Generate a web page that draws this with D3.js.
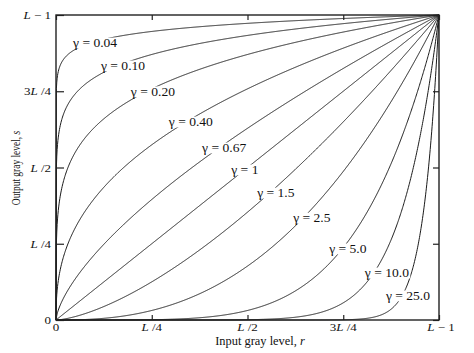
<!DOCTYPE html>
<html>
<head>
<meta charset="utf-8">
<script src="https://cdn.jsdelivr.net/npm/d3@7"></script>
<style>
  body { margin: 0; background: #fff; }
  svg text { font-family: "Liberation Serif", "Times New Roman", serif; fill: #111; }
  .curve { fill: none; stroke: #1a1a1a; stroke-width: 1; }
  .frame { fill: none; stroke: #222; stroke-width: 1.4; }
</style>
</head>
<body>
<svg id="chart" width="474" height="353"></svg>
<script>
// gamma values of the power-law curves s = c r^gamma
const gammas = [0.04, 0.10, 0.20, 0.40, 0.67, 1, 1.5, 2.5, 5.0, 10.0, 25.0];
const gammaText = ["0.04", "0.10", "0.20", "0.40", "0.67", "1", "1.5", "2.5", "5.0", "10.0", "25.0"];
// where each label sits, in data units (r, s)
const labelR = [0.102, 0.175, 0.253, 0.352, 0.439, 0.493, 0.574, 0.668, 0.762, 0.864, 0.919];
const labelS = [0.908, 0.833, 0.748, 0.649, 0.564, 0.492, 0.416, 0.334, 0.233, 0.154, 0.079];

const tickValues = [0, 0.25, 0.5, 0.75, 1];
// tick labels: [prefix, italic part, suffix]
const tickParts = [["0", "", ""], ["", "L", " /4"], ["", "L", " /2"], ["3", "L", " /4"], ["", "L", " \u2212 1"]];

// the original scan is a bit stretched sideways
const stretch = 1.18;

class GammaChart {
    constructor() {
        this.svg = d3.select("#chart");
        this.left = 56; this.right = 439; this.top = 15; this.bottom = 320;
        this.x = d3.scaleLinear().domain([0, 1]).range([this.left, this.right]);
        this.y = d3.scaleLinear().domain([0, 1]).range([this.bottom, this.top]);
    }

    addTickText(sel, parts) {
        sel.append("tspan").text(parts[0]);
        if (parts[1]) sel.append("tspan").attr("font-style", "italic").text(parts[1]);
        if (parts[2]) sel.append("tspan").text(parts[2]);
    }

    drawCurves() {
        let x = this.x, y = this.y;
        let rs = d3.range(0, 1.00001, 0.001);
        let line = d3.line().x(d => x(d[0])).y(d => y(d[1]));
        this.svg.append("g").selectAll("path")
            .data(gammas)
            .enter()
            .append("path")
            .attr("class", "curve")
            .attr("d", g => line(rs.map(r => [r, Math.pow(r, g)])));
    }

    drawLabels() {
        let x = this.x, y = this.y;
        let g = this.svg.append("g");
        gammas.forEach((gm, i) => {
            let lg = g.append("g")
                .attr("transform", `translate(${x(labelR[i])},${y(labelS[i])}) scale(${stretch},1)`);
            let t = lg.append("text")
                .attr("text-anchor", "middle")
                .attr("dominant-baseline", "central")
                .attr("font-size", 11.5)
                .text("\u03b3 = " + gammaText[i]);
            let bb = t.node().getBBox();
            lg.insert("rect", "text")
                .attr("x", bb.x - 1).attr("y", bb.y + 1)
                .attr("width", bb.width + 2).attr("height", bb.height - 2)
                .attr("fill", "#fff");
        });
    }

    drawAxes() {
        let x = this.x, y = this.y, svg = this.svg;
        let self = this;

        let xAxis = d3.axisBottom(x).tickValues(tickValues).tickSize(-5).tickFormat("");
        let xTop = d3.axisTop(x).tickValues(tickValues).tickSize(-5).tickFormat("");
        let yAxis = d3.axisLeft(y).tickValues(tickValues).tickSize(-8).tickFormat("");
        let yRight = d3.axisRight(y).tickValues(tickValues).tickSize(-6).tickFormat("");

        [
            svg.append("g").attr("transform", `translate(0,${this.bottom})`).call(xAxis),
            svg.append("g").attr("transform", `translate(0,${this.top})`).call(xTop),
            svg.append("g").attr("transform", `translate(${this.left},0)`).call(yAxis),
            svg.append("g").attr("transform", `translate(${this.right},0)`).call(yRight)
        ].forEach(a => {
            a.select(".domain").remove();
            a.selectAll("line").attr("stroke", "#222").attr("stroke-width", 1.2);
        });

        svg.append("rect").attr("class", "frame")
            .attr("x", this.left).attr("y", this.top)
            .attr("width", this.right - this.left).attr("height", this.bottom - this.top);

        // x tick labels
        svg.append("g").selectAll("text")
            .data(tickValues)
            .enter()
            .append("text")
            .attr("transform", d => `translate(${x(d) + (d == 1 ? 2 : 0)},331) scale(${stretch},1)`)
            .attr("text-anchor", "middle")
            .attr("font-size", 11)
            .each(function (d, i) { self.addTickText(d3.select(this), tickParts[i]); });

        // y tick labels
        svg.append("g").selectAll("text")
            .data(tickValues)
            .enter()
            .append("text")
            .attr("transform", d => `translate(51,${y(d) + 4}) scale(${stretch},1)`)
            .attr("text-anchor", "end")
            .attr("font-size", 11)
            .each(function (d, i) { self.addTickText(d3.select(this), tickParts[i]); });

        svg.append("text")
            .attr("transform", `translate(260,345) scale(1.08,1)`)
            .attr("text-anchor", "middle")
            .attr("font-size", 11.5)
            .call(t => {
                t.append("tspan").text("Input gray level, ");
                t.append("tspan").attr("font-style", "italic").text("r");
            });

        svg.append("text")
            .attr("transform", "translate(20,168) rotate(-90) scale(0.82,1.15)")
            .attr("text-anchor", "middle")
            .attr("font-size", 11.5)
            .call(t => {
                t.append("tspan").text("Output gray level, ");
                t.append("tspan").attr("font-style", "italic").text("s");
            });
    }
}

let chart = new GammaChart();
chart.drawCurves();
chart.drawLabels();
chart.drawAxes();
</script>
</body>
</html>
